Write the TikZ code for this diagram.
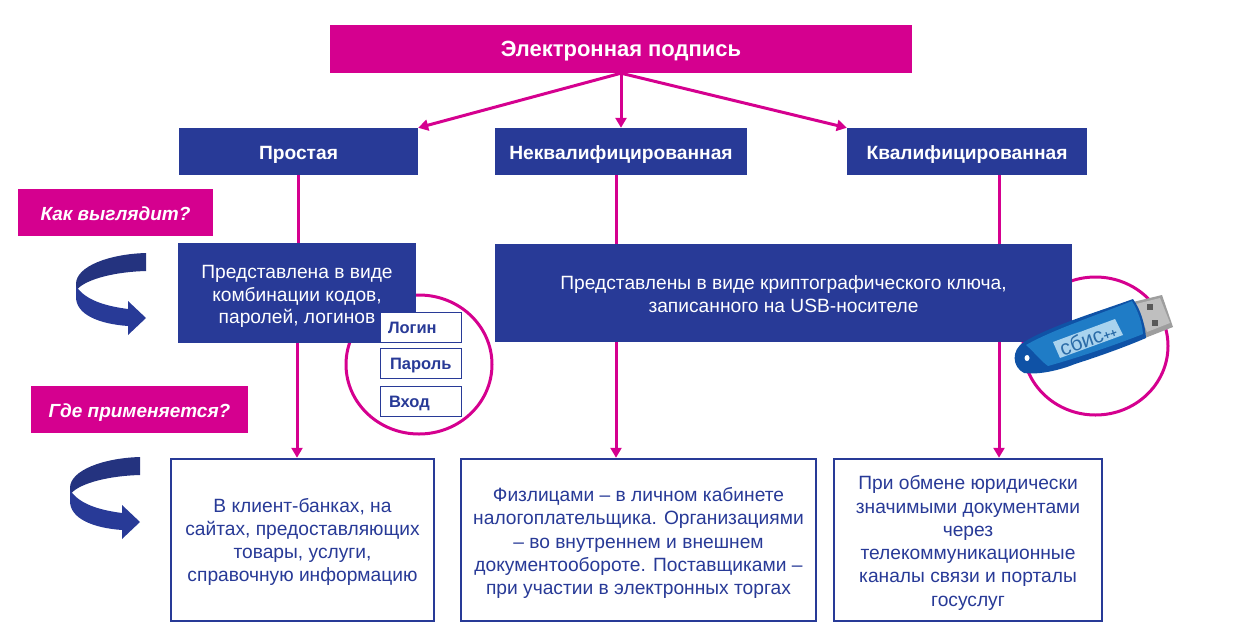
\documentclass[tikz,border=0pt]{standalone}
\usepackage{fontspec}
\setmainfont{Liberation Sans}
\usepackage{tikz}
\usetikzlibrary{shapes.geometric, arrows.meta}

\definecolor{signpink}{HTML}{D5008F}
\definecolor{signblue}{HTML}{283A97}
\definecolor{signdark}{HTML}{24337F}
\definecolor{usbbody}{HTML}{1F7CC6}
\definecolor{usbdark}{HTML}{0F52A6}
\definecolor{usblabel}{HTML}{A9D3EE}
\definecolor{usbtext}{HTML}{2B6CA8}

\newcommand{\lowered}[1][20]{\rule{0pt}{#1pt}}

\tikzset{
  pinkbox/.style={fill=signpink, text=white, inner sep=0pt, align=center,
    text height=17pt, text depth=2pt,
    font=\fontsize{19}{22}\selectfont\bfseries\itshape},
  bluebox/.style={fill=signblue, text=white, inner sep=0pt, align=center,
    font=\fontsize{19.2}{22.8}\selectfont},
  headbox/.style={bluebox, text height=18pt, text depth=2pt,
    font=\fontsize{19.2}{22}\selectfont\bfseries},
  framebox/.style={draw=signblue, line width=2.5pt, fill=white, text=signblue,
    inner sep=0pt, align=center, minimum height=162pt,
    font=\fontsize{19.2}{23.3}\selectfont},
  smallbox/.style={draw=signblue, line width=1pt, fill=white, text=signblue,
    minimum width=81pt, minimum height=30pt, inner sep=0pt, text width=65pt,
    text height=15pt, text depth=2pt,
    font=\fontsize{16.5}{20}\selectfont\bfseries},
  ring/.style={ellipse, draw=signpink, line width=3pt, inner sep=0pt},
  link/.style={draw=signpink, line width=3pt},
  pics/turnarrow/.style={code={
    \fill[signdark] (146,253) .. controls (110,254) and (76,266) .. (76,284)
      -- (76,291) .. controls (82,281) and (110,272) .. (146,271) -- cycle;
    \fill[signblue] (76,286) .. controls (85,300) and (105,306) .. (128,309)
      -- (128,301) -- (146,318) -- (128,335) -- (128,326)
      .. controls (100,324) and (76,315) .. (76,297) -- cycle;
  }}
}

\begin{document}
\begin{tikzpicture}[x=1pt, y=-1pt, >={Triangle[length=10pt,width=11pt]}]
  \useasboundingbox (0,0) rectangle (1240,627);

  % Circles go under the boxes.
  \node[ring, minimum width=146pt, minimum height=139pt] (ringcodes) at (419,364.5) {};
  \node[ring, minimum width=145pt, minimum height=138pt] (ringkey) at (1095.5,346) {};

  % Header row.
  \node[pinkbox, minimum width=582pt, minimum height=48pt,
    font=\fontsize{22}{24}\selectfont\bfseries] (sign) at (621,49) {Электронная подпись};
  \node[headbox, minimum width=239pt, minimum height=47pt] (simple) at (298.5,151.5) {Простая};
  \node[headbox, minimum width=252pt, minimum height=47pt] (nonqual) at (621,151.5) {Неквалифицированная};
  \node[headbox, minimum width=240pt, minimum height=47pt] (qual) at (967,151.5) {Квалифицированная};

  % Questions.
  \node[pinkbox, minimum width=195pt, minimum height=47pt] (looks) at (115.5,212.5) {Как выглядит?};
  \node[pinkbox, minimum width=217pt, minimum height=47pt] (where) at (139.5,409.5) {Где применяется?};

  % Middle row.
  \node[bluebox, minimum width=238pt, minimum height=100pt] (codes) at (297,293)
    {\lowered Представлена в виде\\комбинации кодов,\\паролей, логинов};
  \node[bluebox, minimum width=577pt, minimum height=98pt] (key) at (783.5,293)
    {\lowered[16]Представлены в виде криптографического ключа,\\записанного на USB-носителе};

  % Login form.
  \node[smallbox] (login) at (420.5,327) {Логин};
  \node[smallbox] (password) at (420.5,363) {\hspace{2pt}Пароль};
  \node[smallbox] (enter) at (420.5,401) {\hspace{1pt}Вход};

  % Bottom row.
  \node[framebox, minimum width=263pt] (banks) at (302.5,540)
    {\lowered[18]В клиент-банках, на\\сайтах, предоставляющих\\товары, услуги,\\справочную информацию};
  \node[framebox, minimum width=355pt] (persons) at (638.5,540)
    {\lowered Физлицами – в личном кабинете\\налогоплательщика. Организациями\\– во внутреннем и внешнем\\документообороте. Поставщиками –\\при участии в электронных торгах};
  \node[framebox, minimum width=268pt] (portals) at (968,540)
    {\lowered При обмене юридически\\значимыми документами\\через\\телекоммуникационные\\каналы связи и порталы\\госуслуг};

  % Columns of the vertical lines.
  \coordinate (col1) at (298,0);
  \coordinate (col2) at (616,0);
  \coordinate (col3) at (999,0);

  % Connectors.
  \draw[link, ->] (sign.south) -- (simple.north east);
  \draw[link, ->] (sign.south) -- (nonqual.north);
  \draw[link, ->] (sign.south) -- (qual.north west);
  \draw[link] (col1 |- simple.south) -- (col1 |- codes.north);
  \draw[link, ->] (codes.south) -- (codes.south |- banks.north);
  \draw[link] (col2 |- nonqual.south) -- (col2 |- key.north);
  \draw[link, ->] (col2 |- key.south) -- (col2 |- persons.north);
  \draw[link] (col3 |- qual.south) -- (col3 |- key.north);
  \draw[link, ->] (col3 |- key.south) -- (col3 |- portals.north);

  % Curved arrows.
  \pic at (0,0) {turnarrow};
  \pic at (-6,204) {turnarrow};

  % USB key.
  \fill[black!38] (1133,302) -- (1162,295) -- (1173,327) -- (1145,338) -- cycle;
  \fill[black!25] (1136,304) -- (1160,298) -- (1170,323) -- (1147,332) -- cycle;
  \fill[black!65] (1147,304) rectangle (1153,310);
  \fill[black!65] (1152,320) rectangle (1158,326);
  \fill[usbdark] (1133,299) .. controls (1100,311) and (1050,326) .. (1024,342)
    .. controls (1011,350) and (1012,367) .. (1024,373)
    .. controls (1040,375) and (1060,370) .. (1075,364)
    .. controls (1100,356) and (1125,347) .. (1146,338)
    .. controls (1145,325) and (1141,310) .. (1133,299) -- cycle;
  \fill[usbbody] (1132,301) .. controls (1100,314) and (1052,330) .. (1026,345)
    .. controls (1034,352) and (1042,362) .. (1048,366)
    .. controls (1080,357) and (1115,345) .. (1143,334)
    .. controls (1142,322) and (1138,311) .. (1132,301) -- cycle;
  \fill[usbdark] (1027,358) ellipse (6pt and 7pt);
  \fill[white] (1027,358) ellipse (2.5pt and 3pt);
  \fill[usblabel] (1053,342) -- (1115,319) -- (1123,335) -- (1060,358) -- cycle;
  \node[text=usbtext, rotate=20, inner sep=0pt,
    font=\fontsize{21}{22}\selectfont] (usbname) at (1088,339) {сбис{\fontsize{12}{12}\selectfont\bfseries ++}};
\end{tikzpicture}
\end{document}
